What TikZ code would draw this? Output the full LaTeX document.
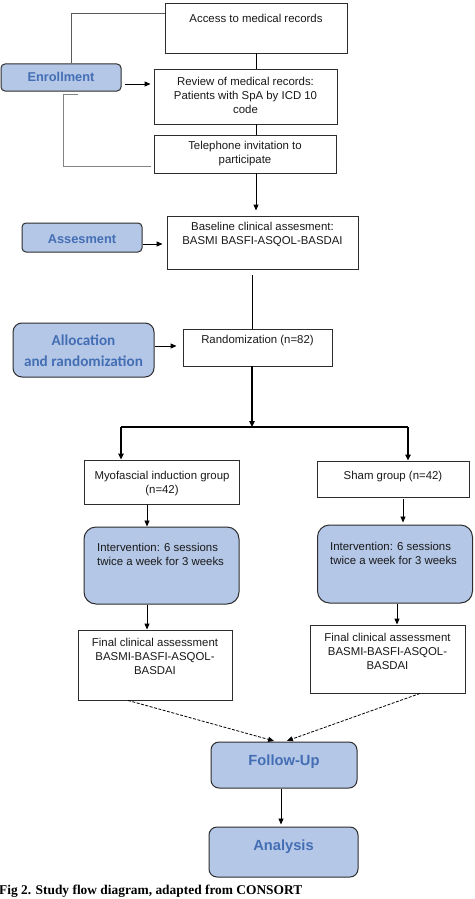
\documentclass[tikz,border=0pt]{standalone}
\usepackage{fontspec}
\setmainfont{Liberation Sans}
\newfontfamily\capfont{Liberation Serif}
\newfontfamily\calfont{Carlito}
\usetikzlibrary{arrows.meta,calc}
\definecolor{boxblue}{RGB}{180,199,231}
\definecolor{textblue}{RGB}{68,110,180}
\definecolor{edge}{RGB}{45,45,45}
\definecolor{gline}{RGB}{90,90,90}
\definecolor{gline2}{RGB}{130,130,130}
\begin{document}
\begin{tikzpicture}[x=1pt,y=-1pt,
  wbox/.style={draw=edge, line width=0.9pt, fill=white, inner sep=0pt},
  bbox/.style={draw=edge, line width=1pt, fill=boxblue, inner sep=0pt},
  txt/.style={font=\fontsize{11.4}{14}\selectfont, align=center, inner sep=0pt, text=black!90},
  btxt/.style={font=\bfseries\fontsize{12.8}{15}\selectfont, text=textblue, inner sep=0pt},
  ln/.style={line width=1pt},
  ln2/.style={line width=1.4pt},
  arr/.style={line width=0.9pt, -{Triangle[length=6pt,width=5pt]}},
  arr2/.style={line width=1.4pt, -{Triangle[length=6pt,width=5.5pt]}},
  darr/.style={line width=0.8pt, dash pattern=on 3pt off 1.5pt, -{Triangle[length=6pt,width=5pt]}},
]
\useasboundingbox (0,0) rectangle (474,899);
\fill[white] (0,0) rectangle (474,899);

% boxes
\node[wbox, minimum width=182pt, minimum height=50pt] (access) at (256,28) {};
\node[bbox, rounded corners=4pt, minimum width=120pt, minimum height=27pt] (enroll) at (61,77.5) {};
\node[wbox, minimum width=183pt, minimum height=55pt] (review) at (245.5,96.5) {};
\node[wbox, minimum width=182pt, minimum height=38pt] (tel) at (245,154) {};
\node[wbox, minimum width=191pt, minimum height=53pt] (baseline) at (262.5,242.5) {};
\node[bbox, rounded corners=4pt, minimum width=120pt, minimum height=29pt] (assess) at (82,237.5) {};
\node[bbox, rounded corners=9pt, minimum width=141pt, minimum height=54pt] (alloc) at (83.5,350) {};
\node[wbox, minimum width=149pt, minimum height=37pt] (rand) at (257.5,347.5) {};
\node[wbox, minimum width=155pt, minimum height=44pt] (myo) at (161.5,482) {};
\node[wbox, minimum width=152pt, minimum height=36pt] (sham) at (393,479) {};
\node[bbox, rounded corners=12pt, minimum width=155pt, minimum height=77pt] (intL) at (161.5,565.5) {};
\node[bbox, rounded corners=12pt, minimum width=155pt, minimum height=78pt] (intR) at (395,564) {};
\node[wbox, minimum width=154pt, minimum height=70pt] (finL) at (155,665) {};
\node[wbox, minimum width=155pt, minimum height=68pt] (finR) at (387.5,659) {};
\node[bbox, rounded corners=8pt, minimum width=146pt, minimum height=46pt] (follow) at (284,765) {};
\node[bbox, rounded corners=8pt, minimum width=149pt, minimum height=50pt] (analysis) at (283.5,852) {};

% texts
\node[txt] (taccess) at (256,18) {Access to medical records};
\node[txt] (treview) at (245.5,95.5) {Review of medical records:\\Patients with SpA by ICD 10\\code};
\node[txt] (ttel) at (245,154) {Telephone invitation to\\participate};
\node[txt] (tbase) at (262.5,234.5) {Baseline clinical assesment:\\BASMI BASFI-ASQOL-BASDAI};
\node[txt] (trand) at (257.5,341) {Randomization (n=82)};
\node[txt] (tmyo) at (162,483.5) {Myofascial induction group\\(n=42)};
\node[txt] (tsham) at (393,477) {Sham group (n=42)};
\node[txt, align=left, anchor=west] (tintL) at (97,554.5) {Intervention: 6 sessions\\twice a week for 3 weeks};
\node[txt, align=left, anchor=west] (tintR) at (330,553) {Intervention: 6 sessions\\twice a week for 3 weeks};
\node[txt] (tfinL) at (155,656) {Final clinical assessment\\BASMI-BASFI-ASQOL-\\BASDAI};
\node[txt] (tfinR) at (387.5,651) {Final clinical assessment\\BASMI-BASFI-ASQOL-\\BASDAI};
\node[btxt] (tenroll) at (61,77) {Enrollment};
\node[btxt] (tassess) at (82,239) {Assesment};
\node[btxt, font=\calfont\bfseries\fontsize{15.2}{21}\selectfont, align=center] (talloc) at (83.5,350.5) {Allocation\\and randomization};
\node[btxt, font=\bfseries\fontsize{14.7}{17}\selectfont] (tfollow) at (284,762) {Follow-Up};
\node[btxt, font=\bfseries\fontsize{14.7}{17}\selectfont] (tanal) at (283.5,847) {Analysis};
\node[anchor=base west, inner sep=0pt, font=\capfont\bfseries\fontsize{13.4}{16}\selectfont] (caption) at (-1,894.5) {Fig 2. Study flow diagram, adapted from CONSORT};

% helper coordinates
\coordinate (eTop) at (71,14);
\coordinate (bL) at (63,94);
\coordinate (bR) at (78,94);
\coordinate (bB) at (63,166);
\coordinate (eArr) at (0,84);
\coordinate (aArr) at (0,244);
\coordinate (rArr) at (0,346);
\coordinate (spine) at (252,0);
\coordinate (split) at (252,427);
\coordinate (sl) at (121,427);
\coordinate (sr) at (408,427);
\coordinate (lx) at (147,0);
\coordinate (rx1) at (403,0);
\coordinate (rx2) at (397,0);
\coordinate (dL) at (128,0);
\coordinate (dR) at (420,0);
\coordinate (fL) at (276,0);
\coordinate (fR) at (285,0);
\coordinate (fx) at (281,0);

% connectors
\draw[ln] (access.south) -- (access.south |- review.north);
\draw[ln] (access.south |- review.south) -- (access.south |- tel.north);
\draw[arr, shorten >=5pt] (access.south |- tel.south) -- (access.south |- baseline.north);
\draw[line width=1pt, gline] (enroll.north -| eTop) -- (eTop) -- (eTop -| access.west);
\draw[line width=0.8pt, gline2] (bR) -- (bL) -- (bB) -- ($(bB -| tel.west)+(-3,0)$);
\draw[arr, shorten <=3pt, shorten >=3pt] (enroll.east |- eArr) -- (review.west |- eArr);
\draw[arr, shorten >=4pt] (assess.east |- aArr) -- (baseline.west |- aArr);
\draw[ln] ($(baseline.south -| spine)+(0,6)$) -- (rand.north -| spine);
\draw[arr, shorten >=6pt] (alloc.east |- rArr) -- (rand.west |- rArr);
\draw[arr2] (rand.south -| spine) -- (split);
\draw[ln2] (sl) -- (sr);
\draw[arr2] (sl) -- (sl |- myo.north);
\draw[arr2] (sr) -- (sr |- sham.north);
\draw[arr, shorten <=1pt] (myo.south -| lx) -- (intL.north -| lx);
\draw[arr] (intL.south -| lx) -- (finL.north -| lx);
\draw[arr, shorten <=2pt, shorten >=2pt] (sham.south -| rx1) -- (intR.north -| rx1);
\draw[arr] (intR.south -| rx2) -- (finR.north -| rx2);
\draw[darr, shorten >=2pt] (finL.south -| dL) -- (follow.north -| fL);
\draw[darr, shorten >=2pt] (finR.south -| dR) -- (follow.north -| fR);
\draw[arr, shorten >=2pt] (follow.south -| fx) -- (analysis.north -| fx);
\end{tikzpicture}
\end{document}
